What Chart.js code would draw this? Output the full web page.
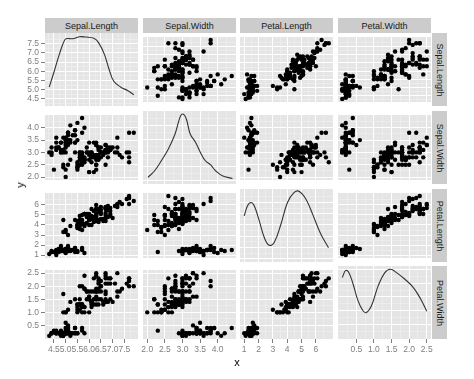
<!DOCTYPE html>
<html>
<head>
<meta charset="utf-8">
<script src="https://cdn.jsdelivr.net/npm/chart.js@4"></script>
<style>
body { margin: 0; background: #fff; }
#wrap { position: relative; width: 474px; height: 379px; overflow: hidden; font-family: "Liberation Sans", Arial, sans-serif; }
#wrap canvas { position: absolute; }
.strip { position: absolute; background: #cccccc; color: #1a1a1a; font-size: 9px; text-align: center; overflow: hidden; }
.strip span { position: absolute; left: 50%; top: 50%; white-space: nowrap; transform: translate(-50%, -50%); }
.strip.side span { transform: translate(-50%, -50%) rotate(90deg); }
.axtitle { position: absolute; font-size: 11px; color: #000; transform: translate(-50%, -50%); }
</style>
</head>
<body>
<div id="wrap"></div>
<script>
// iris measurements, one array per variable
const varNames = ['Sepal.Length', 'Sepal.Width', 'Petal.Length', 'Petal.Width'];

const sepalLength = [
  5.1,4.9,4.7,4.6,5.0,5.4,4.6,5.0,4.4,4.9, 5.4,4.8,4.8,4.3,5.8,5.7,5.4,5.1,5.7,5.1,
  5.4,5.1,4.6,5.1,4.8,5.0,5.0,5.2,5.2,4.7, 4.8,5.4,5.2,5.5,4.9,5.0,5.5,4.9,4.4,5.1,
  5.0,4.5,4.4,5.0,5.1,4.8,5.1,4.6,5.3,5.0, 7.0,6.4,6.9,5.5,6.5,5.7,6.3,4.9,6.6,5.2,
  5.0,5.9,6.0,6.1,5.6,6.7,5.6,5.8,6.2,5.6, 5.9,6.1,6.3,6.1,6.4,6.6,6.8,6.7,6.0,5.7,
  5.5,5.5,5.8,6.0,5.4,6.0,6.7,6.3,5.6,5.5, 5.5,6.1,5.8,5.0,5.6,5.7,5.7,6.2,5.1,5.7,
  6.3,5.8,7.1,6.3,6.5,7.6,4.9,7.3,6.7,7.2, 6.5,6.4,6.8,5.7,5.8,6.4,6.5,7.7,7.7,6.0,
  6.9,5.6,7.7,6.3,6.7,7.2,6.2,6.1,6.4,7.2, 7.4,7.9,6.4,6.3,6.1,7.7,6.3,6.4,6.0,6.9,
  6.7,6.9,5.8,6.8,6.7,6.7,6.3,6.5,6.2,5.9
];
const sepalWidth = [
  3.5,3.0,3.2,3.1,3.6,3.9,3.4,3.4,2.9,3.1, 3.7,3.4,3.0,3.0,4.0,4.4,3.9,3.5,3.8,3.8,
  3.4,3.7,3.6,3.3,3.4,3.0,3.4,3.5,3.4,3.2, 3.1,3.4,4.1,4.2,3.1,3.2,3.5,3.6,3.0,3.4,
  3.5,2.3,3.2,3.5,3.8,3.0,3.8,3.2,3.7,3.3, 3.2,3.2,3.1,2.3,2.8,2.8,3.3,2.4,2.9,2.7,
  2.0,3.0,2.2,2.9,2.9,3.1,3.0,2.7,2.2,2.5, 3.2,2.8,2.5,2.8,2.9,3.0,2.8,3.0,2.9,2.6,
  2.4,2.4,2.7,2.7,3.0,3.4,3.1,2.3,3.0,2.5, 2.6,3.0,2.6,2.3,2.7,3.0,2.9,2.9,2.5,2.8,
  3.3,2.7,3.0,2.9,3.0,3.0,2.5,2.9,2.5,3.6, 3.2,2.7,3.0,2.5,2.8,3.2,3.0,3.8,2.6,2.2,
  3.2,2.8,2.8,2.7,3.3,3.2,2.8,3.0,2.8,3.0, 2.8,3.8,2.8,2.8,2.6,3.0,3.4,3.1,3.0,3.1,
  3.1,3.1,2.7,3.2,3.3,3.0,2.5,3.0,3.4,3.0
];
const petalLength = [
  1.4,1.4,1.3,1.5,1.4,1.7,1.4,1.5,1.4,1.5, 1.5,1.6,1.4,1.1,1.2,1.5,1.3,1.4,1.7,1.5,
  1.7,1.5,1.0,1.7,1.9,1.6,1.6,1.5,1.4,1.6, 1.6,1.5,1.5,1.4,1.5,1.2,1.3,1.4,1.3,1.5,
  1.3,1.3,1.3,1.6,1.9,1.4,1.6,1.4,1.5,1.4, 4.7,4.5,4.9,4.0,4.6,4.5,4.7,3.3,4.6,3.9,
  3.5,4.2,4.0,4.7,3.6,4.4,4.5,4.1,4.5,3.9, 4.8,4.0,4.9,4.7,4.3,4.4,4.8,5.0,4.5,3.5,
  3.8,3.7,3.9,5.1,4.5,4.5,4.7,4.4,4.1,4.0, 4.4,4.6,4.0,3.3,4.2,4.2,4.2,4.3,3.0,4.1,
  6.0,5.1,5.9,5.6,5.8,6.6,4.5,6.3,5.8,6.1, 5.1,5.3,5.5,5.0,5.1,5.3,5.5,6.7,6.9,5.0,
  5.7,4.9,6.7,4.9,5.7,6.0,4.8,4.9,5.6,5.8, 6.1,6.4,5.6,5.1,5.6,6.1,5.6,5.5,4.8,5.4,
  5.6,5.1,5.1,5.9,5.7,5.2,5.0,5.2,5.4,5.1
];
const petalWidth = [
  0.2,0.2,0.2,0.2,0.2,0.4,0.3,0.2,0.2,0.1, 0.2,0.2,0.1,0.1,0.2,0.4,0.4,0.3,0.3,0.3,
  0.2,0.4,0.2,0.5,0.2,0.2,0.4,0.2,0.2,0.2, 0.2,0.4,0.1,0.2,0.2,0.2,0.2,0.1,0.2,0.2,
  0.3,0.3,0.2,0.6,0.4,0.3,0.2,0.2,0.2,0.2, 1.4,1.5,1.5,1.3,1.5,1.3,1.6,1.0,1.3,1.4,
  1.0,1.5,1.0,1.4,1.3,1.4,1.5,1.0,1.5,1.1, 1.8,1.3,1.5,1.2,1.3,1.4,1.4,1.7,1.5,1.0,
  1.1,1.0,1.2,1.6,1.5,1.6,1.5,1.3,1.3,1.3, 1.2,1.4,1.2,1.0,1.3,1.2,1.3,1.3,1.1,1.3,
  2.5,1.9,2.1,1.8,2.2,2.1,1.7,1.8,1.8,2.5, 2.0,1.9,2.1,2.0,2.4,2.3,1.8,2.2,2.3,1.5,
  2.3,2.0,2.0,1.8,2.1,1.8,1.8,1.8,2.1,1.6, 1.9,2.0,2.2,1.5,1.4,2.3,2.4,1.8,1.8,2.1,
  2.4,2.3,1.9,2.3,2.5,2.3,1.9,2.0,2.3,1.8
];

// density curves on the diagonal (already rescaled to each row's y range)
const slDensX = [4.3,4.5,4.75,4.95,5.05,5.3,5.6,5.85,6.2,6.4,6.65,6.85,7.05,7.35,7.65,7.9];
const slDensY = [5.15,5.95,7.0,7.68,7.78,7.77,7.88,7.86,7.79,7.56,6.92,6.1,5.46,5.14,4.95,4.73];
const swDensX = [2.02,2.21,2.4,2.6,2.79,2.93,3.01,3.11,3.22,3.37,3.51,3.65,3.8,3.94,4.13,4.42];
const swDensY = [2.12,2.36,2.72,3.15,3.69,4.29,4.41,4.23,3.69,3.39,3.02,2.72,2.57,2.36,2.18,2.08];
const plDensX = [1.0,1.23,1.47,1.7,2.05,2.4,2.74,3.09,3.56,4.02,4.49,4.84,5.31,5.77,6.35,6.88];
const plDensY = [4.8,5.7,6.0,5.7,4.36,2.88,2.19,2.43,4.06,6.0,6.89,6.98,6.29,4.96,3.17,1.98];
const pwDensX = [0.1,0.2,0.29,0.41,0.55,0.69,0.79,0.93,1.12,1.31,1.47,1.64,1.88,2.12,2.33,2.5];
const pwDensY = [2.2,2.46,2.38,1.96,1.36,1.0,0.94,1.18,1.9,2.38,2.5,2.38,2.14,1.84,1.42,0.98];

// tick breaks and labels per variable
const slTicks = [4.5, 5.0, 5.5, 6.0, 6.5, 7.0, 7.5];
const swTicks = [2.0, 2.5, 3.0, 3.5, 4.0];
const plTicks = [1, 2, 3, 4, 5, 6];
const pwTicks = [0.5, 1.0, 1.5, 2.0, 2.5];
const slLabels = ['4.5', '5.0', '5.5', '6.0', '6.5', '7.0', '7.5'];
const swLabels = ['2.0', '2.5', '3.0', '3.5', '4.0'];
const plLabels = ['1', '2', '3', '4', '5', '6'];
const pwLabels = ['0.5', '1.0', '1.5', '2.0', '2.5'];

const values = [sepalLength, sepalWidth, petalLength, petalWidth];
const densX = [slDensX, swDensX, plDensX, pwDensX];
const densY = [slDensY, swDensY, plDensY, pwDensY];
const ticks = [slTicks, swTicks, plTicks, pwTicks];
const labels = [slLabels, swLabels, plLabels, pwLabels];

// layout
const colLeft = [45, 143, 240, 338];
const rowTop = [33, 111, 189, 266];
const panelW = 93, panelH = 73;
const yAxisW = 45, xAxisH = 22;
const sideRoom = 8; // spare canvas on each side so edge tick labels are not cut
const fontFamily = '"Liberation Sans", Arial, sans-serif';

// data range plus 5% on each side, like ggplot
const limits = values.map(v => {
  const lo = Math.min(...v), hi = Math.max(...v);
  const pad = (hi - lo) * 0.05;
  return [lo - pad, hi + pad];
});

function gridTicks(v) {
  const major = ticks[v];
  const step = major[1] - major[0];
  const [lo, hi] = limits[v];
  const out = major.map((value, i) => ({value: value, txt: labels[v][i]}));
  for (let i = -1; i < major.length; i++) {
    const m = major[0] + step * (i + 0.5);
    if (m > lo && m < hi) out.push({value: m, minor: true});
  }
  return out.sort((a, b) => a.value - b.value);
}

function makeScale(v, axis, show) {
  return {
    type: 'linear',
    min: limits[v][0],
    max: limits[v][1],
    afterBuildTicks: s => { s.ticks = gridTicks(v); },
    afterFit: s => {
      if (axis === 'x') s.height = show ? xAxisH : 0;
      else s.width = show ? yAxisW : 0;
      s.paddingLeft = s.paddingRight = s.paddingTop = s.paddingBottom = 0;
    },
    border: {display: false},
    grid: {
      color: c => c.tick && c.tick.minor ? '#f3f3f3' : '#ffffff',
      lineWidth: c => c.tick && c.tick.minor ? 0.5 : 1,
      drawTicks: show,
      tickLength: 4,
      tickWidth: 1,
      tickColor: c => c.tick && c.tick.minor ? 'rgba(0,0,0,0)' : '#7f7f7f'
    },
    ticks: {
      display: show,
      autoSkip: false,
      maxRotation: 0,
      minRotation: 0,
      padding: 2,
      color: '#7f7f7f',
      font: {family: fontFamily, size: 8.5},
      callback: (val, i, tk) => tk[i].txt || ''
    }
  };
}

const panelBg = {
  id: 'panelBg',
  beforeDraw(chart) {
    const {ctx, chartArea: a} = chart;
    ctx.save();
    ctx.fillStyle = '#e5e5e5';
    ctx.fillRect(a.left, a.top, a.right - a.left, a.bottom - a.top);
    ctx.restore();
  }
};

const wrap = document.getElementById('wrap');

for (let r = 0; r < 4; r++) {
  for (let c = 0; c < 4; c++) {
    const showY = c === 0, showX = r === 3;
    const canvas = document.createElement('canvas');
    const w = panelW + (showY ? yAxisW : 0) + 2 * sideRoom;
    const h = panelH + (showX ? xAxisH : 0);
    canvas.width = w;
    canvas.height = h;
    canvas.style.width = w + 'px';
    canvas.style.height = h + 'px';
    canvas.style.left = (colLeft[c] - (showY ? yAxisW : 0) - sideRoom) + 'px';
    canvas.style.top = rowTop[r] + 'px';
    wrap.appendChild(canvas);

    let dataset;
    if (r === c) {
      dataset = {
        data: densX[c].map((x, i) => ({x: x, y: densY[c][i]})),
        showLine: true,
        borderColor: '#333333',
        borderWidth: 1.1,
        pointRadius: 0,
        tension: 0.4
      };
    } else {
      dataset = {
        data: values[c].map((x, i) => ({x: x, y: values[r][i]})),
        backgroundColor: '#000000',
        borderWidth: 0,
        pointRadius: 2.2
      };
    }

    new Chart(canvas, {
      type: 'scatter',
      data: {datasets: [dataset]},
      options: {
        responsive: false,
        animation: false,
        events: [],
        layout: {padding: {left: sideRoom, right: sideRoom, top: 0, bottom: 0}},
        plugins: {legend: {display: false}, tooltip: {enabled: false}},
        scales: {
          x: makeScale(c, 'x', showX),
          y: makeScale(r, 'y', showY)
        }
      },
      plugins: [panelBg]
    });
  }
}

// facet strips
varNames.forEach((name, i) => {
  const top = document.createElement('div');
  top.className = 'strip';
  top.style.left = colLeft[i] + 'px';
  top.style.top = '18px';
  top.style.width = panelW + 'px';
  top.style.height = '15px';
  top.innerHTML = '<span>' + name + '</span>';
  wrap.appendChild(top);

  const side = document.createElement('div');
  side.className = 'strip side';
  side.style.left = '432px';
  side.style.top = rowTop[i] + 'px';
  side.style.width = '15px';
  side.style.height = panelH + 'px';
  side.innerHTML = '<span>' + name + '</span>';
  wrap.appendChild(side);
});

const xTitle = document.createElement('div');
xTitle.className = 'axtitle';
xTitle.textContent = 'x';
xTitle.style.left = '237px';
xTitle.style.top = '362px';
wrap.appendChild(xTitle);

const yTitle = document.createElement('div');
yTitle.className = 'axtitle';
yTitle.textContent = 'y';
yTitle.style.left = '20px';
yTitle.style.top = '185px';
yTitle.style.transform = 'translate(-50%, -50%) rotate(-90deg)';
wrap.appendChild(yTitle);
</script>
</body>
</html>
